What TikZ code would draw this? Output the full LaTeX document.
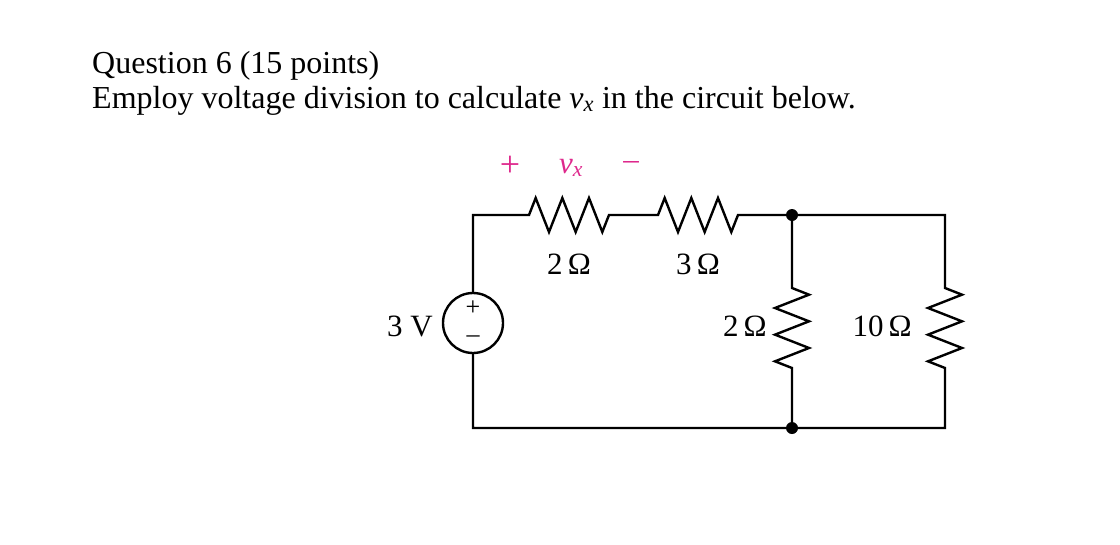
\documentclass[tikz,border=0pt]{standalone}
\usepackage{fontspec}
\setmainfont{Liberation Serif}
\definecolor{mag}{RGB}{222,40,140}
\begin{document}
\begin{tikzpicture}[x=1pt,y=-1pt,
  wire/.style={line width=2.4pt,line join=miter},
  lbl/.style={font=\fontsize{31}{34}\selectfont,inner sep=0pt},
  dot/.style={circle,fill,inner sep=0pt,minimum size=12pt}]
\useasboundingbox (0,0) rectangle (1120,544);
\node[anchor=base west,inner sep=0pt,font=\fontsize{32}{36}\selectfont] (t1) at (92,73) {Question 6 (15 points)};
\node[anchor=base west,inner sep=0pt,font=\fontsize{32}{36}\selectfont] (t2) at (92,108) {Employ voltage division to calculate \textit{v\textsubscript{x}} in the circuit below.};
\coordinate (tl) at (473,215);
\coordinate (r1a) at (529,215);
\coordinate (r1b) at (609,215);
\coordinate (r2a) at (658,215);
\coordinate (r2b) at (738,215);
\coordinate (n1) at (792,215);
\coordinate (tr) at (945,215);
\coordinate (r3a) at (792,288);
\coordinate (r3b) at (792,368);
\coordinate (r4a) at (945,288);
\coordinate (r4b) at (945,368);
\coordinate (n2) at (792,428);
\coordinate (br) at (945,428);
\coordinate (bl) at (473,428);
\node[draw,circle,line width=2.4pt,minimum size=60pt,inner sep=0pt] (src) at (473,323) {};
\node[font=\fontsize{26}{28}\selectfont] (sp) at (473,308) {+};
\node[font=\fontsize{26}{28}\selectfont] (sm) at (473,339) {–};
\draw[wire] (src.north) -- (tl) -- (r1a)
  -- ++(6.67,-17) -- ++(13.33,34) -- ++(13.33,-34) -- ++(13.33,34) -- ++(13.33,-34) -- ++(13.33,34) -- ++(6.67,-17)
  -- (r2a)
  -- ++(6.67,-17) -- ++(13.33,34) -- ++(13.33,-34) -- ++(13.33,34) -- ++(13.33,-34) -- ++(13.33,34) -- ++(6.67,-17)
  -- (n1) -- (tr) -- (r4a)
  -- ++(17,6.67) -- ++(-34,13.33) -- ++(34,13.33) -- ++(-34,13.33) -- ++(34,13.33) -- ++(-34,13.33) -- ++(17,6.67)
  -- (br) -- (n2) -- (bl) -- (src.south);
\draw[wire] (n1) -- (r3a)
  -- ++(17,6.67) -- ++(-34,13.33) -- ++(34,13.33) -- ++(-34,13.33) -- ++(34,13.33) -- ++(-34,13.33) -- ++(17,6.67)
  -- (n2);
\node[dot] (d1) at (n1) {};
\node[dot] (d2) at (n2) {};
\node[lbl] (l1) at (569,264) {2\,Ω};
\node[lbl] (l2) at (698,264) {3\,Ω};
\node[lbl,anchor=east] (l3) at (767,326) {2\,Ω};
\node[lbl,anchor=east] (l4) at (912,326) {10\,Ω};
\node[lbl,anchor=east] (l5) at (433,326) {3 V};
\node[lbl,text=mag,font=\fontsize{36}{38}\selectfont] (vp) at (510,166) {+};
\node[lbl,text=mag] (vx) at (571,168) {\textit{v\textsubscript{x}}};
\node[lbl,text=mag] (vm) at (631,166) {–};
\end{tikzpicture}
\end{document}
